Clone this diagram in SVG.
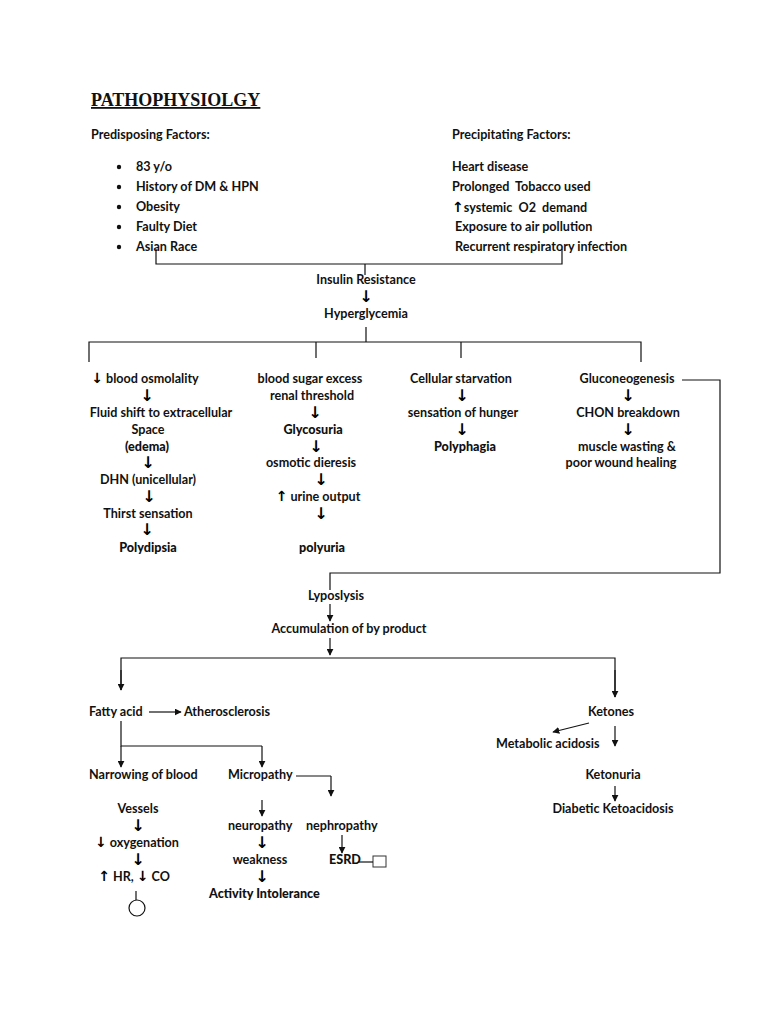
<svg xmlns="http://www.w3.org/2000/svg" width="768" height="1024" viewBox="0 0 768 1024">
<style>
text{font-family:Lato,"Liberation Sans",sans-serif;font-size:12.6px;font-weight:700;fill:#111;white-space:pre}
.b{font-weight:900}
.c{text-anchor:middle}
.a{font-family:"DejaVu Sans",sans-serif;font-weight:700;font-size:16px;fill:#000}
.ai{font-family:"DejaVu Sans",sans-serif;font-weight:700;font-size:14px;fill:#000}
.title{font-family:"Liberation Serif",serif;font-size:18px;font-weight:700;text-decoration:underline}
.ln{fill:none;stroke:#111;stroke-width:1.2}
.ar{fill:none;stroke:#111;stroke-width:1.2;marker-end:url(#ah)}
</style>
<defs>
<marker id="ah" viewBox="0 0 10 10" refX="9" refY="5" markerWidth="7" markerHeight="7" markerUnits="userSpaceOnUse" orient="auto"><path d="M0,0L10,5L0,10z" fill="#111"/></marker>
</defs>
<rect width="768" height="1024" fill="#fff"/>
<text class="title" x="91" y="106">PATHOPHYSIOLGY</text>
<g id="predisposing">
<text x="91" y="139">Predisposing Factors:</text>
<circle cx="119" cy="167" r="2.2" fill="#111"/><text x="136" y="171">83 y/o</text>
<circle cx="119" cy="187" r="2.2" fill="#111"/><text x="136" y="191">History of DM &amp; HPN</text>
<circle cx="119" cy="207" r="2.2" fill="#111"/><text x="136" y="211">Obesity</text>
<circle cx="119" cy="227" r="2.2" fill="#111"/><text x="136" y="231">Faulty Diet</text>
<circle cx="119" cy="247" r="2.2" fill="#111"/><text x="136" y="251">Asian Race</text>
</g>
<g id="precipitating">
<text x="452" y="139">Precipitating Factors:</text>
<text x="452" y="171">Heart disease</text>
<text x="452" y="191">Prolonged  Tobacco used</text>
<text x="452" y="212"><tspan class="ai">↑</tspan>systemic  O2  demand</text>
<text x="455" y="231">Exposure to air pollution</text>
<text x="455" y="251">Recurrent respiratory infection</text>
</g>
<g id="insulin"><text class="c" x="366" y="284">Insulin Resistance</text><text class="c a" x="366" y="302">↓</text></g>
<g id="hyperglycemia"><text class="c" x="366" y="318">Hyperglycemia</text></g>
<g id="col1">
<text class="c" x="145" y="383"><tspan class="ai">↓</tspan> blood osmolality</text>
<text class="c a" x="147" y="401">↓</text>
<text class="c" x="161" y="417">Fluid shift to extracellular</text>
<text class="c" x="148" y="434">Space</text>
<text class="c b" x="147" y="451">(edema)</text>
<text class="c a" x="148" y="468">↓</text>
<text class="c" x="148" y="484">DHN (unicellular)</text>
<text class="c a" x="149" y="502">↓</text>
<text class="c" x="148" y="518">Thirst sensation</text>
<text class="c a" x="147" y="535">↓</text>
<text class="c b" x="148" y="552">Polydipsia</text>
</g>
<g id="col2">
<text class="c" x="310" y="383">blood sugar excess</text>
<text class="c" x="312" y="400">renal threshold</text>
<text class="c a" x="315" y="418">↓</text>
<text class="c b" x="313" y="434">Glycosuria</text>
<text class="c a" x="316" y="452">↓</text>
<text class="c" x="311" y="467">osmotic dieresis</text>
<text class="c a" x="321" y="485">↓</text>
<text class="c" x="318" y="501"><tspan class="ai">↑</tspan> urine output</text>
<text class="c a" x="321" y="519">↓</text>
<text class="c b" x="322" y="552">polyuria</text>
</g>
<g id="col3">
<text class="c" x="461" y="383">Cellular starvation</text>
<text class="c a" x="462" y="401">↓</text>
<text class="c" x="463" y="417">sensation of hunger</text>
<text class="c a" x="462" y="435">↓</text>
<text class="c b" x="465" y="451">Polyphagia</text>
</g>
<g id="col4">
<text class="c" x="627" y="383">Gluconeogenesis</text>
<text class="c a" x="628" y="401">↓</text>
<text class="c" x="628" y="417">CHON breakdown</text>
<text class="c a" x="628" y="435">↓</text>
<text class="c" x="627" y="451">muscle wasting &amp;</text>
<text class="c" x="621" y="467">poor wound healing</text>
</g>
<g id="lyposlysis"><text class="c" x="336" y="600">Lyposlysis</text></g>
<g id="accumulation"><text class="c" x="349" y="633">Accumulation of by product</text></g>
<g id="fatty"><text x="89" y="716">Fatty acid</text></g>
<g id="athero"><text x="184" y="716">Atherosclerosis</text></g>
<g id="narrowing">
<text x="89" y="779">Narrowing of blood</text>
<text class="c" x="138" y="813">Vessels</text>
<text class="c a" x="138" y="831">↓</text>
<text class="c" x="137" y="847"><tspan class="ai">↓</tspan> oxygenation</text>
<text class="c a" x="138" y="865">↓</text>
<text class="c" x="134" y="881"><tspan class="ai">↑</tspan> HR, <tspan class="ai">↓</tspan> CO</text>
<circle cx="137" cy="908" r="8" fill="none" stroke="#111" stroke-width="1.2"/>
</g>
<g id="micropathy"><text x="228" y="779">Micropathy</text></g>
<g id="neuropathy">
<text x="228" y="830">neuropathy</text>
<text class="c a" x="262" y="848">↓</text>
<text class="c" x="260" y="864">weakness</text>
<text class="c a" x="262" y="882">↓</text>
<text class="b" x="209" y="898">Activity Intolerance</text>
</g>
<g id="nephropathy"><text x="306" y="830">nephropathy</text></g>
<g id="esrd"><text class="b" x="329" y="864">ESRD</text>
<rect x="373" y="856" width="13" height="11" fill="none" stroke="#333" stroke-width="1"/></g>
<g id="ketones"><text x="588" y="716">Ketones</text></g>
<g id="metabolic"><text x="496" y="748">Metabolic acidosis</text></g>
<g id="ketonuria"><text class="c" x="613" y="779">Ketonuria</text></g>
<g id="dka"><text class="c" x="613" y="813">Diabetic Ketoacidosis</text></g>
<g id="connectors">
<path class="ln" d="M156,249V264H562V249M365,264V275"/>
<path class="ln" d="M366,327V342M89,362V342H641V362M316,342V358M461,342V358"/>
<path class="ln" d="M682,380H720V573H330V590"/>
<path class="ar" d="M330,604V621"/>
<path class="ar" d="M330,638V655"/>
<path class="ln" d="M121,690V658H615V697"/>
<path class="ar" d="M121,670V690"/>
<path class="ar" d="M615,670V697"/>
<path class="ar" d="M149,712H181"/>
<path class="ln" d="M121,721V746H262"/>
<path class="ar" d="M121,746V767"/>
<path class="ar" d="M262,746V767"/>
<path class="ln" d="M296,776H331"/>
<path class="ar" d="M331,776V796"/>
<path class="ar" d="M262,800V816"/>
<path class="ar" d="M342,835V853"/>
<path class="ln" d="M358,862H373"/>
<path class="ln" d="M136,891V900"/>
<path class="ar" d="M589,723L553,732"/>
<path class="ar" d="M615,726V746"/>
<path class="ar" d="M615,786V801"/>
</g>
</svg>
